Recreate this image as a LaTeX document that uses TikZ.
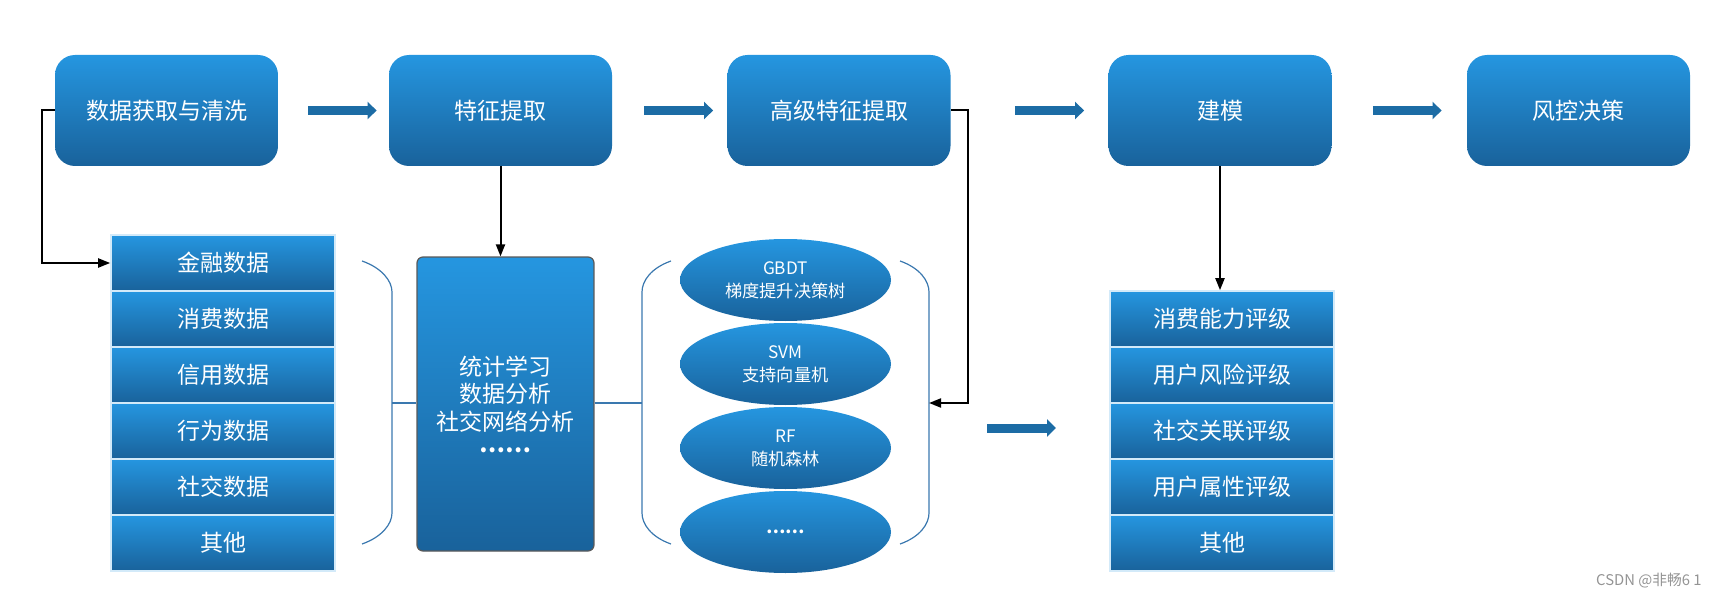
\documentclass[tikz,border=0pt]{standalone}
\usepackage{fontspec}
\setmainfont{Noto Sans CJK SC}
\usepackage{tikz}
\usetikzlibrary{arrows.meta,shapes.geometric}

\definecolor{boxtop}{RGB}{37,150,224}
\definecolor{boxbot}{RGB}{25,98,155}
\definecolor{fatblue}{RGB}{28,108,165}
\definecolor{brkblue}{RGB}{58,120,175}

\tikzset{
  topbox/.style={rounded corners=10pt, top color=boxtop, bottom color=boxbot,
    minimum width=111.5pt, minimum height=55.5pt, inner sep=0pt,
    text=white, font=\fontsize{11.5}{14}\selectfont},
  rowbox/.style={draw=white!80!boxtop, line width=0.8pt, top color=boxtop, bottom color=boxbot,
    minimum width=112pt, minimum height=28pt, inner sep=0pt,
    text=white, font=\fontsize{11.5}{14}\selectfont},
  ellbox/.style={ellipse, top color=boxtop, bottom color=boxbot,
    minimum width=105.5pt, minimum height=41pt, inner sep=0pt, align=center,
    text=white, font=\fontsize{8.6}{11.5}\selectfont},
  conn/.style={line width=1pt, -{Triangle[length=6pt,width=4.5pt]}},
  fat/.style={line width=4.5pt, fatblue, -{Triangle[length=4.5pt,width=8.5pt]}},
  brk/.style={line width=0.6pt, brkblue}
}

\begin{document}
\begin{tikzpicture}[x=0.5pt,y=0.5pt,yscale=-1,xscale=1]
\useasboundingbox (0,0) rectangle (1720,599);

%Rounded Rect
\node[topbox] (get) at (166.5,110.5) {数据获取与清洗};
\node[topbox] (feat) at (500.5,110.5) {特征提取};
\node[topbox] (adv) at (839,110.5) {高级特征提取};
\node[topbox] (model) at (1220,110.5) {建模};
\node[topbox] (risk) at (1578.5,110.5) {风控决策};

%Block Arrows
\draw[fat, shorten <=15pt, shorten >=6pt] (get) -- (feat);
\draw[fat, shorten <=16pt, shorten >=7pt] (feat) -- (adv);
\draw[fat, shorten <=32pt, shorten >=12pt] (adv) -- (model);
\draw[fat, shorten <=20.5pt, shorten >=12.5pt] (model) -- (risk);

%Data sources
\foreach \t [count=\i] in {金融数据,消费数据,信用数据,行为数据,社交数据,其他}
  \node[rowbox] (l\i) at (223,{207+56*\i}) {\t};

%Methods
\node[draw=black!65, line width=0.6pt, rounded corners=3pt, top color=boxtop, bottom color=boxbot,
  minimum width=88.5pt, minimum height=147pt, align=center, text=white,
  font=\fontsize{11.5}{13.8}\selectfont] (mid) at (505.5,404)
  {统计学习\\数据分析\\社交网络分析\\[-3pt]\textbf{……}};

%Models
\foreach \t [count=\i] in {{GBDT\\梯度提升决策树},{SVM\\支持向量机},{RF\\随机森林},{\textbf{……}}}
  \node[ellbox] (e\i) at (785.5,{196+84*\i}) {\t};

%Ratings
\foreach \t [count=\i] in {消费能力评级,用户风险评级,社交关联评级,用户属性评级,其他}
  \node[rowbox] (r\i) at (1222,{263+56*\i}) {\t};

%Brackets
\coordinate (lbr) at (392,403);
\coordinate (elb) at (642,403);
\coordinate (erb) at (929,403);
\draw[brk] (362,261) .. controls (382,268) and (392,281) .. (392,292) -- (392,513)
  .. controls (392,524) and (382,537) .. (362,544);
\draw[brk] (671,261) .. controls (651,268) and (642,281) .. (642,292) -- (642,513)
  .. controls (642,524) and (651,537) .. (671,544);
\draw[brk] (900,261) .. controls (920,268) and (929,281) .. (929,292) -- (929,513)
  .. controls (929,524) and (920,537) .. (900,544);
\draw[brk] (lbr) -- (lbr -| mid.west);
\draw[brk] (mid.east |- elb) -- (elb);

%Connectors
\draw[conn] (get.west) -- ++(-13,0) |- (l1.west);
\draw[conn] (feat.south) -- (feat.south |- mid.north);
\draw[conn] (adv.east) -- ++(17,0) |- (erb);
\draw[conn] (model.south) -- (model.south |- r1.north);

%Lower block arrow
\coordinate (fa) at (987,428);
\coordinate (fb) at (1056,428);
\draw[fat] (fa) -- (fb);

% Text Node
\node[anchor=east, inner sep=0pt, text=black!42, font=\fontsize{7.4}{9}\selectfont] (mark) at (1702,581) {CSDN @非畅6 1};

\end{tikzpicture}
\end{document}
